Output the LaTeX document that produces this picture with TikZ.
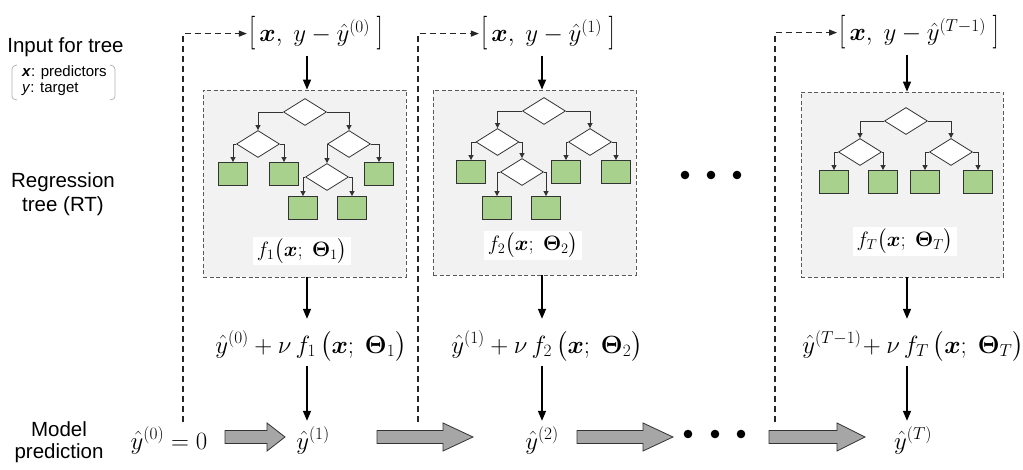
\documentclass[tikz,border=0pt]{standalone}
\usepackage{amsmath}
\usepackage{bm}
\usepackage{graphicx}
\usepackage[no-math]{fontspec}
\setmainfont{Liberation Sans}
\usetikzlibrary{shapes.geometric,arrows.meta}
\definecolor{dk}{HTML}{333333}
\definecolor{leafgreen}{HTML}{A9D18E}
\definecolor{boxgray}{HTML}{F2F2F2}
\definecolor{boxdash}{HTML}{595959}
\definecolor{arrowgray}{HTML}{A6A6A6}
\definecolor{parengray}{HTML}{B0B0B0}
\newcommand\fsz[2]{\fontsize{#1}{#2}\selectfont}
\newcommand\LB{\mathopen{\mbox{\scalebox{1}[1.35]{$[$}}}}
\newcommand\RB{\mathclose{\mbox{\scalebox{1}[1.35]{$]$}}}}
\newcommand\blockarr[4]{% x1, xh, x2, yc
  \draw[barrow] (#1,#4-6.5) -- (#2,#4-6.5) -- (#2,#4-14) -- (#3,#4) -- (#2,#4+14) -- (#2,#4+6.5) -- (#1,#4+6.5) -- cycle;}
\tikzset{
  lab/.style={font=\fsz{20.5}{24}, inner sep=0},
  small/.style={font=\fsz{15}{18}, inner sep=0},
  dia/.style={diamond, draw=dk, fill=white, line width=0.8pt, minimum width=43pt, minimum height=27pt, inner sep=0, aspect=1.6},
  leaf/.style={rectangle, draw=dk, fill=leafgreen, line width=0.8pt, minimum width=29pt, minimum height=23pt, inner sep=0},
  tb/.style={draw=dk, line width=0.8pt, -{Triangle[length=5pt,width=5pt]}},
  rtbox/.style={draw=boxdash, dash pattern=on 4pt off 2.5pt, fill=boxgray, line width=0.8pt, inner sep=0},
  fb/.style={draw=black!85, line width=1.1pt, dash pattern=on 6pt off 4pt, -{Triangle[length=8pt,width=6pt]}, shorten >=2pt},
  arr/.style={draw=black, line width=1.4pt, -{Triangle[length=10pt,width=8pt]}},
  barrow/.style={fill=arrowgray, draw=dk, line width=0.8pt},
  mbr/.style={font=\fsz{24}{28}, inner sep=0},
  mmid/.style={font=\fsz{24}{28}, inner sep=0},
  mbot/.style={font=\fsz{26}{30}, inner sep=0},
  flab/.style={font=\fsz{21}{25}, fill=white, inner xsep=4pt, inner ysep=2pt},
  dot/.style={circle, fill=black, minimum size=8.6pt, inner sep=0},
}
\begin{document}
\begin{tikzpicture}[x=1pt,y=-1pt]
\useasboundingbox (0,0) rectangle (1023,470);
\fill[white] (0,0) rectangle (1023,470);

% ---------- left labels ----------
\node[lab, anchor=base] (inlab) at (65.5,53) {Input for tree};
\node[small, anchor=base west] (pred) at (22,77) {\textbf{\textit{x}}: predictors};
\node[small, anchor=base west] (targ) at (22,93) {\textit{y}: target};
\draw[parengray, line width=0.7pt] (17,65) .. controls (12,66) and (12,68) .. (12,72) -- (12,94) .. controls (12,98) and (12,99) .. (17,100);
\draw[parengray, line width=0.7pt] (110,65) .. controls (115,66) and (115,68) .. (115,72) -- (115,94) .. controls (115,98) and (115,99) .. (110,100);
\node[lab, anchor=base] (rt1) at (63,188) {Regression};
\node[lab, anchor=base] (rt2) at (63,212) {tree (RT)};
\node[lab, anchor=base] (mp1) at (59,436) {Model};
\node[lab, anchor=base] (mp2) at (59,458) {prediction};

% ---------- column x positions ----------
\coordinate (c1) at (307,0);
\coordinate (c2) at (542,0);
\coordinate (c3) at (907,0);

% ---------- input brackets ----------
\node[mbr, anchor=base] (in1) at (316,42) {$\LB\,\bm{x},\ y-\hat{y}^{(0)}\ \RB$};
\node[mbr, anchor=base] (in2) at (548,42) {$\LB\,\bm{x},\ y-\hat{y}^{(1)}\ \RB$};
\node[mbr, anchor=base] (in3) at (919,41) {$\LB\,\bm{x},\ y-\hat{y}^{(T-1)}\ \RB$};

% ---------- boxes ----------
\node[rtbox, minimum width=203pt, minimum height=187pt] (box1) at (304.5,183.5) {};
\node[rtbox, minimum width=203pt, minimum height=185pt] (box2) at (534.5,182.5) {};
\node[rtbox, minimum width=202pt, minimum height=185pt] (box3) at (902,184.5) {};

% ---------- tree 1 ----------
\node[dia] (t1r) at (305,112) {};
\node[dia] (t1a) at (258,144) {};
\node[dia] (t1b) at (349,144) {};
\node[leaf] (t1l1) at (233,174) {};
\node[leaf] (t1l2) at (284,174) {};
\node[leaf] (t1l3) at (379,174) {};
\node[dia] (t1c) at (327,177) {};
\node[leaf] (t1l4) at (303,208) {};
\node[leaf] (t1l5) at (352,208) {};
\draw[tb] (t1r.west) -| (t1a.north);
\draw[tb] (t1r.east) -| (t1b.north);
\draw[tb] (t1a.west) -| (t1l1.north);
\draw[tb] (t1a.east) -| (t1l2.north);
\draw[tb] (t1b.west) -| (t1c.north);
\draw[tb] (t1b.east) -| (t1l3.north);
\draw[tb] (t1c.west) -| (t1l4.north);
\draw[tb] (t1c.east) -| (t1l5.north);
\node[flab] (f1) at (302,251) {$f_1\big(\bm{x};\ \bm{\Theta}_1\big)$};

% ---------- tree 2 ----------
\node[dia] (t2r) at (544,111) {};
\node[dia] (t2a) at (497.5,142) {};
\node[dia] (t2b) at (590,142) {};
\node[leaf] (t2l1) at (471,172) {};
\node[dia] (t2c) at (522,172) {};
\node[leaf] (t2l2) at (566,172) {};
\node[leaf] (t2l3) at (616,172) {};
\node[leaf] (t2l4) at (497,208) {};
\node[leaf] (t2l5) at (546,208) {};
\draw[tb] (t2r.west) -| (t2a.north);
\draw[tb] (t2r.east) -| (t2b.north);
\draw[tb] (t2a.west) -| (t2l1.north);
\draw[tb] (t2a.east) -| (t2c.north);
\draw[tb] (t2b.west) -| (t2l2.north);
\draw[tb] (t2b.east) -| (t2l3.north);
\draw[tb] (t2c.west) -| (t2l4.north);
\draw[tb] (t2c.east) -| (t2l5.north);
\node[flab] (f2) at (533,245.5) {$f_2\big(\bm{x};\ \bm{\Theta}_2\big)$};

% ---------- tree 3 ----------
\node[dia] (t3r) at (906,121) {};
\node[dia] (t3a) at (860,152) {};
\node[dia] (t3b) at (951,152) {};
\node[leaf] (t3l1) at (834,182) {};
\node[leaf] (t3l2) at (883,182) {};
\node[leaf] (t3l3) at (925,182) {};
\node[leaf] (t3l4) at (978,182) {};
\draw[tb] (t3r.west) -| (t3a.north);
\draw[tb] (t3r.east) -| (t3b.north);
\draw[tb] (t3a.west) -| (t3l1.north);
\draw[tb] (t3a.east) -| (t3l2.north);
\draw[tb] (t3b.west) -| (t3l3.north);
\draw[tb] (t3b.east) -| (t3l4.north);
\node[flab] (f3) at (905,241.5) {$f_T\big(\bm{x};\ \bm{\Theta}_T\big)$};

% ---------- middle dots ----------
\node[dot] (md1) at (685,175) {};
\node[dot] (md2) at (711,175) {};
\node[dot] (md3) at (737,175) {};

% ---------- update formulas ----------
\node[mmid, anchor=base] (m1) at (311,353) {$\hat{y}^{(0)}+\nu\, f_1\,\big(\bm{x};\ \bm{\Theta}_1\big)$};
\node[mmid, anchor=base] (m2) at (547,353) {$\hat{y}^{(1)}+\nu\, f_2\,\big(\bm{x};\ \bm{\Theta}_2\big)$};
\node[mmid, anchor=base] (m3) at (913,353) {$\hat{y}^{(T-1)}\!+\nu\, f_T\,\big(\bm{x};\ \bm{\Theta}_T\big)$};

% ---------- bottom row ----------
\node[mbot, anchor=base] (y0) at (169,449) {$\hat{y}^{(0)}=0$};
\node[mbot, anchor=base] (y1) at (313,449) {$\hat{y}^{(1)}$};
\node[mbot, anchor=base] (y2) at (542,449) {$\hat{y}^{(2)}$};
\node[mbot, anchor=base] (yT) at (913,449) {$\hat{y}^{(T)}$};
\node[dot] (bd1) at (688,434) {};
\node[dot] (bd2) at (715,434) {};
\node[dot] (bd3) at (741,434) {};
\blockarr{225}{267}{285}{437}
\blockarr{377}{443}{473}{437}
\blockarr{577}{643}{673}{437}
\blockarr{769}{837}{865}{437}

% ---------- vertical arrows ----------
\draw[arr] (c1 |- in1.south) ++(0,5) -- (c1 |- box1.north);
\draw[arr] (c2 |- in2.south) ++(0,5) -- (c2 |- box2.north);
\draw[arr] (c3 |- in3.south) ++(0,5) -- (c3 |- box3.north);
\draw[arr, shorten >=12pt] (c1 |- box1.south) -- (c1 |- m1.north);
\draw[arr, shorten >=12pt] (c2 |- box2.south) -- (c2 |- m2.north);
\draw[arr, shorten >=12pt] (c3 |- box3.south) -- (c3 |- m3.north);
\draw[arr, shorten <=4pt, shorten >=6pt] (c1 |- m1.south) -- (c1 |- y1.north);
\draw[arr, shorten <=4pt, shorten >=6pt] (c2 |- m2.south) -- (c2 |- y2.north);
\draw[arr, shorten <=4pt, shorten >=6pt] (c3 |- m3.south) -- (c3 |- yT.north);

% ---------- feedback dashed lines ----------
\coordinate (fb1) at (183,422);
\coordinate (fb2) at (418,422);
\coordinate (fb3) at (775,422);
\draw[fb] (fb1) |- (in1.west);
\draw[fb] (fb2) |- (in2.west);
\draw[fb] (fb3) |- (in3.west);
\end{tikzpicture}
\end{document}
